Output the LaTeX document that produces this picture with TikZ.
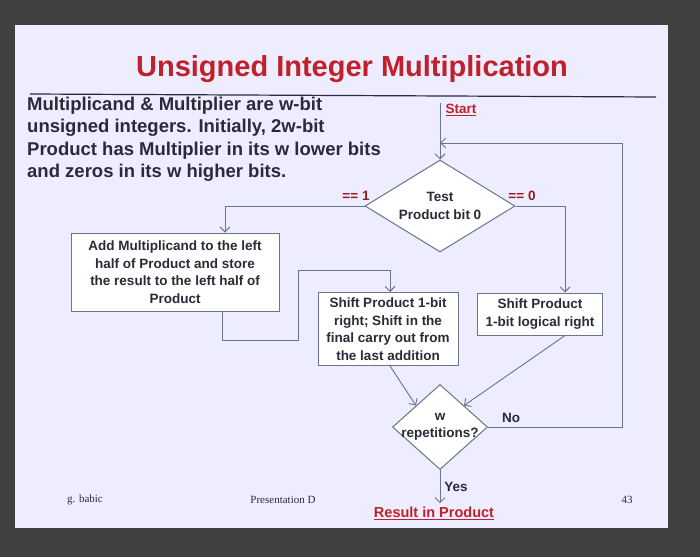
\documentclass[tikz,border=0pt]{standalone}
\usepackage{fontspec}
\setmainfont{Liberation Sans}
\newfontfamily\serifft{Liberation Serif}
\usetikzlibrary{shapes.geometric,arrows.meta}
\definecolor{ttl}{HTML}{C0202A}
\definecolor{edge}{HTML}{6A7486}
\definecolor{ink}{HTML}{2A2A38}
\tikzset{x=1pt,y=-1pt,
 box/.style={draw=edge,line width=1pt,fill=white,align=center,font=\bfseries\fontsize{13.5}{17.5}\selectfont,text=ink,inner sep=2pt},
 dia/.style={draw=edge,line width=1pt,diamond,fill=white,align=center,font=\bfseries\fontsize{13.5}{17.5}\selectfont,text=ink},
 conn/.style={draw=edge,line width=0.9pt,-{Straight Barb[length=5pt]}},
 lbl/.style={font=\bfseries\fontsize{13.5}{16}\selectfont,text=ink}}
\begin{document}
\begin{tikzpicture}
\useasboundingbox (0,0) rectangle (700,557);
\fill[black!75] (0,0) rectangle (700,557);
\fill[white!93!blue] (15,25) rectangle (668,528);
\node[font=\bfseries\fontsize{29}{33}\selectfont,text=ttl] (title) at (352,69) {Unsigned Integer Multiplication};
\draw[ink,line width=1.2pt] (30,94) -- (656,97);
\node[anchor=north west,align=left,font=\bfseries\fontsize{18.5}{22.3}\selectfont,text=ink,inner sep=0] (intro) at (27,97)
 {Multiplicand \& Multiplier are w-bit\\unsigned integers. Initially, 2w-bit\\Product has Multiplier in its w lower bits\\and zeros in its w higher bits.};
\node[lbl,text=ttl] (start) at (461,110) {\underline{Start}};
\node[dia,minimum width=150pt,minimum height=92pt,inner sep=-9pt] (test) at (440,206) {Test\\Product bit 0};
\node[lbl,text=ttl!80!black] (e1) at (356,196) {== 1};
\node[lbl,text=ttl!80!black] (e0) at (522,196) {== 0};
\node[box,minimum width=208pt,minimum height=78pt] (add) at (175,272) {Add Multiplicand to the left\\half of Product and store\\the result to the left half of\\Product};
\node[box,minimum width=140pt,minimum height=73pt] (shift) at (388,329) {Shift Product 1-bit\\right; Shift in the\\final carry out from\\the last addition};
\node[box,minimum width=125pt,minimum height=42pt] (lsr) at (540,314) {Shift Product\\1-bit logical right};
\node[dia,minimum width=95pt,minimum height=85pt,inner sep=-9pt] (rep) at (440,427) {w\\repetitions?};
\node[lbl] (no) at (511,418) {No};
\node[lbl] (yes) at (456,487) {Yes};
\node[lbl,text=ttl,font=\bfseries\fontsize{14.5}{16}\selectfont] (res) at (434,513) {\underline{Result in Product}};
\coordinate (s0) at (440,103);
\draw[conn] (s0) -- (test.north);
\draw[conn] (test.west) -| (add.north -| 225,0);
\draw[conn] (test.east) -| (lsr.north -| 565,0);
\draw[conn] (add.south -| 222,0) -- (222,340) -- (298,340) -- (298,270) -- (390,270) -- (shift.north -| 390,0);
\draw[conn] (shift.south -| 390,0) -- (rep.north west);
\draw[conn] (lsr.south -| 565,0) -- (rep.north east);
\draw[conn] (rep.east) -- (622,427) -- (622,143) -- (440,143);
\draw[conn] (rep.south) -- (res.north -| rep.south);
\node[font=\serifft\fontsize{11}{13}\selectfont,text=ink] (f1) at (85,500) {g. babic};
\node[font=\serifft\fontsize{11}{13}\selectfont,text=ink] (f2) at (283,500) {Presentation D};
\node[font=\serifft\fontsize{11}{13}\selectfont,text=ink] (f3) at (627,500) {43};
\end{tikzpicture}
\end{document}
